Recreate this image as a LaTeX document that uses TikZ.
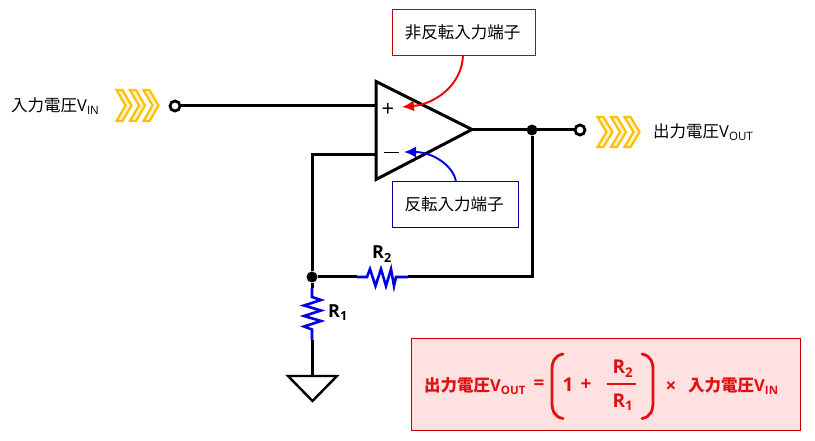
\documentclass[tikz,border=0pt]{standalone}
\usepackage{fontspec}
\setmainfont{Open Sans}
\newfontfamily\jpfont{Noto Sans CJK JP}
\usepackage{xcolor}
\usetikzlibrary{positioning,arrows.meta}
\definecolor{chevyellow}{HTML}{FFC000}
\definecolor{boxred}{HTML}{C00000}
\definecolor{boxblue}{HTML}{000099}
\definecolor{eqred}{HTML}{E01010}
\definecolor{eqpink}{HTML}{FFE1E1}
\newcommand{\jplabel}[1]{{\jpfont #1}}
\tikzset{
  every overlay node/.style={}
}

\begin{document}
\begin{tikzpicture}[x=1pt,y=-1pt,
		wire/.style = {line width=3pt, draw=black},
		res/.style = {line width=2.6pt, draw=blue!90!black, line join=miter},
		terminal/.style = {circle, draw, line width=2.8pt, fill=white, minimum size=10pt, inner sep=0pt},
		junction/.style = {circle, fill=black, minimum size=11pt, inner sep=0pt},
		callout/.style = {draw, line width=0.8pt, fill=white, minimum height=46pt, inner sep=0pt, font=\fontsize{16.5}{16.5}\selectfont},
		plain/.style = {inner sep=0pt, font=\fontsize{16.5}{16.5}\selectfont},
		rlabel/.style = {inner sep=0pt, font=\bfseries\fontsize{18}{18}\selectfont},
		eq/.style = {inner sep=0pt, text=eqred, font=\bfseries\fontsize{16.5}{16.5}\selectfont},
		eqbig/.style = {inner sep=0pt, text=eqred, font=\bfseries\fontsize{19}{19}\selectfont},
		chev/.style = {draw=chevyellow, line width=2.2pt, fill=chevyellow!20, line join=miter}]
	\useasboundingbox (0,0) rectangle (815,441);

	% op amp
	\coordinate (inp) at (375,106);
	\coordinate (inm) at (375,155);
	\coordinate (opout) at (472,130);
	\draw[wire,fill=white,line join=miter] (376,81.5) -- (472,129.5) -- (376,179.5) -- cycle;
	\node[plain,font=\fontsize{22}{22}\selectfont] (plus) at (388,109.5) {+};
	\node[plain] (minus) at (391.5,153) {\rule{15pt}{1pt}};

	% terminals
	\node[terminal] (tin) at (175,106) {};
	\node[terminal] (tout) at (580,130) {};
	\node[junction] (jout) at (532,130) {};
	\node[junction] (jfb) at (312,277) {};
	\coordinate (cfb) at (312,155);
	\coordinate (cr) at (532,277);
	\coordinate (r2a) at (357,277);
	\coordinate (r2b) at (408,277);
	\coordinate (r1a) at (312,288);
	\coordinate (r1b) at (312,340);
	\coordinate (gnd) at (312,376);

	\draw[wire] (tin) -- (inp);
	\draw[wire] (inm) -- (cfb) -- (jfb);
	\draw[wire] (opout) -- (tout);
	\draw[wire] (jout) -- (cr) -- (r2b);
	\draw[wire] (jfb) -- (r2a);
	\draw[wire] (jfb) -- (r1a);
	\draw[wire] (r1b) -- (gnd);

	% resistors
	\draw[res] (r2a) -- ++(10,0) -- ++(3,-8) -- ++(5.5,17) -- ++(5.5,-17) -- ++(5,17) -- ++(5,-17) -- ++(3,17) -- ++(2,-9) -- (r2b);
	\draw[res] (r1a) -- ++(0,8) -- ++(0,1) -- ++(9,3) -- ++(-17,5.5) -- ++(17,5) -- ++(-17,5.5) -- ++(17,5) -- ++(-17,5.5) -- ++(8,3) -- (r1b);
	\node[rlabel] (r2) at (382,254) {R\textsubscript{2}};
	\node[rlabel] (r1) at (338,313) {R\textsubscript{1}};

	% ground
	\draw[line width=2.4pt,line join=miter,fill=white] (288,376) -- (337,376) -- (312.5,401) -- cycle;

	% chevrons
	\foreach \i in {0,1,2} {
		\draw[chev] ({116.5+13.5*\i},90) -- ++(6,0) -- ++(9,15.5) -- ++(-9,15.5) -- ++(-6,0) -- ++(9,-15.5) -- cycle;
		\draw[chev] ({597.5+13.5*\i},117) -- ++(6,0) -- ++(9,15) -- ++(-9,15) -- ++(-6,0) -- ++(9,-15) -- cycle;
	}

	% labels
	\node[plain,anchor=west] (lin) at (11,106) {\jplabel{入力電圧}V\textsubscript{IN}};
	\node[plain,anchor=west] (lout) at (653,132) {\jplabel{出力電圧}V\textsubscript{OUT}};

	% callouts
	\node[callout,draw=boxred,minimum width=143pt] (noninv) at (464,32.5) {\hspace*{-3pt}\jplabel{非反転入力端子}};
	\node[callout,draw=boxblue,minimum width=126pt] (inv) at (455.5,204.5) {\hspace*{-3pt}\jplabel{反転入力端子}};
	\coordinate (tipred) at (402,107);
	\coordinate (tipblue) at (404,152);
	\draw[-{Latex[length=12pt,width=11pt]},line width=1.9pt,draw=red!95!black] (463,55.5) .. controls (462,85) and (435,104) .. (tipred);
	\draw[-{Latex[length=12pt,width=11pt]},line width=1.9pt,draw=blue!90!black] (456,181.5) .. controls (453,165) and (432,152) .. (tipblue);

	% formula
	\node[draw=boxred,line width=0.8pt,fill=eqpink,minimum width=389pt,minimum height=92pt,inner sep=0pt] (eqbox) at (606.25,384) {};
	\node[eq,anchor=west] (eqout) at (424,386) {\jplabel{\bfseries 出力電圧}V\textsubscript{OUT}};
	\node[eqbig] (eqeq) at (539,385) {=};
	\node[eqbig] (eqone) at (568,385) {1};
	\node[eqbig] (eqplus) at (586,385) {+};
	\node[eqbig] (eqtop) at (623,369) {R\textsubscript{2}};
	\node[eqbig] (eqbot) at (623,402) {R\textsubscript{1}};
	\draw[line width=2.4pt,draw=eqred] (607,384) -- (636,384);
	\draw[line width=2.8pt,draw=eqred,line cap=round] (563,354) .. controls (554,356) and (552,362) .. (552,370) -- (552,402) .. controls (552,410) and (554,417) .. (563,418.5);
	\draw[line width=2.8pt,draw=eqred,line cap=round] (642,354) .. controls (651,356) and (653,362) .. (653,370) -- (653,402) .. controls (653,410) and (651,417) .. (642,418.5);
	\node[eqbig] (eqtimes) at (671,387) {×};
	\node[eq,anchor=west] (eqin) at (688,386) {\jplabel{\bfseries 入力電圧}V\textsubscript{IN}};
\end{tikzpicture}
\end{document}
